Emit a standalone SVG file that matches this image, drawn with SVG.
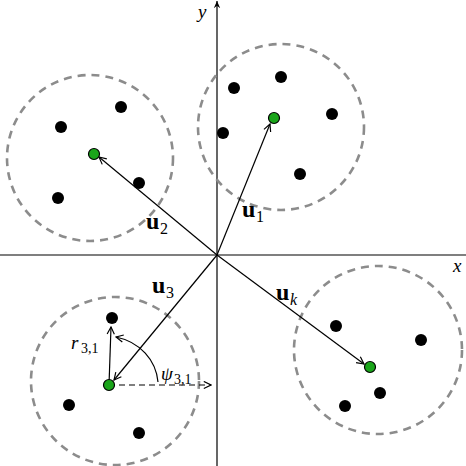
<svg xmlns="http://www.w3.org/2000/svg" width="466" height="466" viewBox="0 0 466 466">
<defs>
<style>
.ring{fill:none;stroke:#8c8c8c;stroke-width:2.6;stroke-dasharray:8,6}
.dot{fill:#000}
.ctr{fill:#1aa51a;stroke:#000;stroke-width:1.2}
.ln{stroke:#000;stroke-width:1.2;fill:none}
.t{font-family:"Liberation Serif",serif;fill:#000}
.b{font-weight:bold;font-size:24px}
.n{font-size:16px}
.s{font-style:italic;font-size:16px}
.i{font-style:italic;font-size:19px}
.m{font-size:14px}
</style>
<marker id="ah" viewBox="0 0 10 10" refX="9" refY="5" markerWidth="9" markerHeight="9" markerUnits="userSpaceOnUse" orient="auto">
<path d="M1,1 L9,5 L1,9" fill="none" stroke="#000" stroke-width="1.3"/>
</marker>
<marker id="ax" viewBox="0 0 10 10" refX="9" refY="5" markerWidth="8" markerHeight="8" markerUnits="userSpaceOnUse" orient="auto">
<path d="M0,1 L9,5 L0,9 L3,5 Z" fill="#000"/>
</marker>
</defs>
<rect width="466" height="466" fill="#fff"/>
<g id="axes">
<line class="ln" x1="0" y1="255" x2="466" y2="255"/>
<line class="ln" x1="217" y1="466" x2="217" y2="1" marker-end="url(#ax)"/>
<text class="t i" x="198" y="18">y</text>
<text class="t i" x="453" y="272">x</text>
</g>
<g id="cluster1">
<circle class="ring" cx="281" cy="127" r="83"/>
<circle class="dot" cx="234" cy="88" r="6"/>
<circle class="dot" cx="281" cy="77" r="6"/>
<circle class="dot" cx="332" cy="114" r="6"/>
<circle class="dot" cx="223" cy="133" r="6"/>
<circle class="dot" cx="300" cy="174" r="6"/>
</g>
<g id="cluster2">
<circle class="ring" cx="90" cy="158" r="83"/>
<circle class="dot" cx="121" cy="107" r="6"/>
<circle class="dot" cx="61" cy="127" r="6"/>
<circle class="dot" cx="139" cy="183" r="6"/>
<circle class="dot" cx="58" cy="198" r="6"/>
</g>
<g id="cluster3">
<circle class="ring" cx="115" cy="381" r="84"/>
<circle class="dot" cx="112" cy="318" r="6"/>
<circle class="dot" cx="69" cy="405" r="6"/>
<circle class="dot" cx="139" cy="433" r="6"/>
</g>
<g id="clusterk">
<circle class="ring" cx="378" cy="350" r="84"/>
<circle class="dot" cx="336" cy="326" r="6"/>
<circle class="dot" cx="421" cy="340" r="6"/>
<circle class="dot" cx="380" cy="393" r="6"/>
<circle class="dot" cx="345" cy="406" r="6"/>
</g>
<g id="connectors">
<line class="ln" x1="217" y1="255" x2="270" y2="124" marker-end="url(#ah)"/>
<line class="ln" x1="217" y1="255" x2="99" y2="157" marker-end="url(#ah)"/>
<line class="ln" x1="217" y1="255" x2="114" y2="380" marker-end="url(#ah)"/>
<line class="ln" x1="217" y1="255" x2="364" y2="364" marker-end="url(#ah)"/>
<line class="ln" x1="109" y1="385" x2="111" y2="327" marker-end="url(#ah)"/>
<line class="ln" x1="109" y1="385" x2="211" y2="385" stroke-dasharray="6,4" marker-end="url(#ah)"/>
<path class="ln" d="M158,382 C156,360 140,342 116,337" marker-end="url(#ah)"/>
</g>
<g id="centers">
<circle class="ctr" cx="274" cy="118" r="5.5"/>
<circle class="ctr" cx="94" cy="154" r="5.5"/>
<circle class="ctr" cx="109" cy="385" r="5.5"/>
<circle class="ctr" cx="370" cy="367" r="5.5"/>
</g>
<g id="labels">
<text class="t b" x="242" y="217">u</text><text class="t n" x="256" y="222">1</text>
<text class="t b" x="146" y="229">u</text><text class="t n" x="160" y="234">2</text>
<text class="t b" x="152" y="293">u</text><text class="t n" x="166" y="298">3</text>
<text class="t b" x="276" y="300">u</text><text class="t s" x="290" y="305">k</text>
<text class="t i" x="71" y="349">r</text><text class="t m" x="81" y="353">3,1</text>
<text class="t i" x="161" y="380">ψ</text><text class="t m" x="174" y="384">3,1</text>
</g>
</svg>
